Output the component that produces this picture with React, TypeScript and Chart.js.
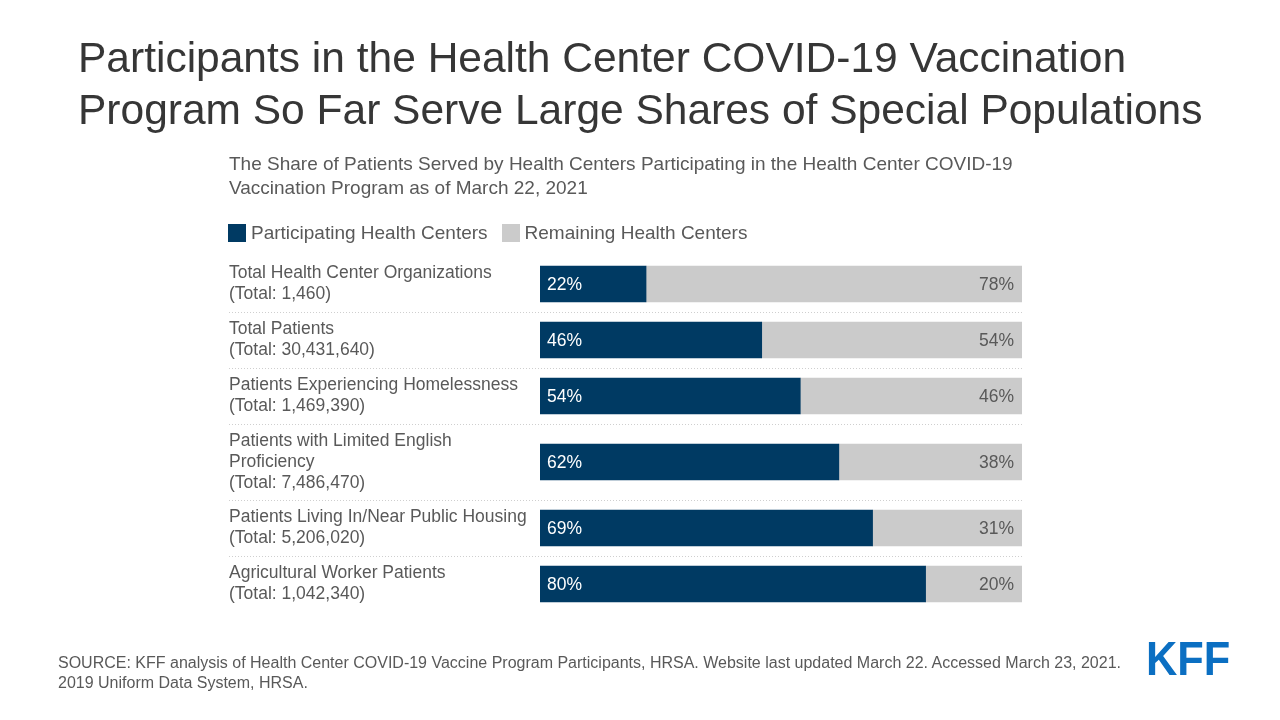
import React, { useEffect, useRef } from "react";
import { Chart, registerables } from "chart.js";

Chart.register(...registerables);

const FONT = '"Liberation Sans", Arial, Helvetica, sans-serif';

const titleLines = [
  "Participants in the Health Center COVID-19 Vaccination",
  "Program So Far Serve Large Shares of Special Populations",
];
const subtitleLines = [
  "The Share of Patients Served by Health Centers Participating in the Health Center COVID-19",
  "Vaccination Program as of March 22, 2021",
];
const seriesNames = ["Participating Health Centers", "Remaining Health Centers"];
const seriesColors = ["#003a63", "#cbcbcb"];
const categoryLines = [
  ["Total Health Center Organizations"],
  ["Total Patients"],
  ["Patients Experiencing Homelessness"],
  ["Patients with Limited English", "Proficiency"],
  ["Patients Living In/Near Public Housing"],
  ["Agricultural Worker Patients"],
];
const totals = ["1,460", "30,431,640", "1,469,390", "7,486,470", "5,206,020", "1,042,340"];
const participating = [22, 46, 54, 62, 69, 80];
const remaining = [78, 54, 46, 38, 31, 20];
const sourceLines = [
  "SOURCE: KFF analysis of Health Center COVID-19 Vaccine Program Participants, HRSA. Website last updated March 22. Accessed March 23, 2021.",
  "2019 Uniform Data System, HRSA.",
];

export default function App() {
  const canvasRef = useRef<HTMLCanvasElement | null>(null);

  useEffect(() => {
    const canvas = canvasRef.current;
    if (!canvas) return;

    const tickLabels = categoryLines.map((lines, i) => [...lines, `(Total: ${totals[i]})`]);
    // row heights in "line units": number of label lines plus a fixed gap
    const ROW_GAP = 0.8;
    const centers: number[] = [];
    const bounds: number[] = [0];
    let acc = 0;
    tickLabels.forEach((l) => {
      const h = l.length + ROW_GAP;
      centers.push(acc + h / 2);
      acc += h;
      bounds.push(acc);
    });
    const totalUnits = acc;

    const separators = {
      id: "separators",
      beforeDatasetsDraw(chart: any) {
        const ctx = chart.ctx;
        const ys = chart.scales.y;
        ctx.save();
        ctx.strokeStyle = "#cfcfcf";
        ctx.lineWidth = 1;
        ctx.setLineDash([1, 2]);
        for (let i = 1; i < bounds.length - 1; i++) {
          const y = Math.round(ys.getPixelForValue(bounds[i])) + 0.5;
          ctx.beginPath();
          ctx.moveTo(229, y);
          ctx.lineTo(chart.chartArea.right, y);
          ctx.stroke();
        }
        ctx.restore();
      },
    };

    const valueLabels = {
      id: "valueLabels",
      afterDatasetsDraw(chart: any) {
        const ctx = chart.ctx;
        ctx.save();
        ctx.font = `17.5px ${FONT}`;
        ctx.textBaseline = "middle";
        chart.data.datasets.forEach((ds: any, di: number) => {
          const meta = chart.getDatasetMeta(di);
          meta.data.forEach((bar: any, i: number) => {
            const v = ds.data[i].x;
            if (di === 0) {
              ctx.fillStyle = "#ffffff";
              ctx.textAlign = "left";
              ctx.fillText(`${v}%`, bar.base + 7, bar.y + 1);
            } else {
              ctx.fillStyle = "#595959";
              ctx.textAlign = "right";
              ctx.fillText(`${v}%`, bar.x - 8, bar.y + 1);
            }
          });
        });
        ctx.restore();
      },
    };

    const chart = new Chart(canvas, {
      type: "bar",
      data: {
        datasets: [
          {
            label: seriesNames[0],
            data: participating.map((v, i) => ({ x: v, y: centers[i] })),
            backgroundColor: seriesColors[0],
            borderWidth: 0,
            barThickness: 36,
          },
          {
            label: seriesNames[1],
            data: remaining.map((v, i) => ({ x: v, y: centers[i] })),
            backgroundColor: seriesColors[1],
            borderWidth: 0,
            barThickness: 36,
          },
        ],
      },
      options: {
        indexAxis: "y",
        responsive: false,
        animation: false,
        layout: { padding: { left: 229, top: 256, right: 258, bottom: 108 } },
        plugins: {
          legend: { display: false },
          tooltip: { enabled: false },
          title: { display: false },
        },
        scales: {
          x: { type: "linear", stacked: true, min: 0, max: 100, display: false },
          y: {
            type: "linear",
            stacked: true,
            reverse: true,
            offset: false,
            min: 0,
            max: totalUnits,
            grid: { display: false, offset: false },
            border: { display: false },
            afterBuildTicks: (s: any) => {
              s.ticks = centers.map((v) => ({ value: v }));
            },
            afterFit: (s: any) => {
              s.width = 540 - 229;
            },
            ticks: {
              autoSkip: false,
              crossAlign: "far",
              color: "#595959",
              font: { family: FONT, size: 17.5, lineHeight: 1.2 },
              callback: (_v: any, i: number) => tickLabels[i],
            },
          },
        },
      },
      plugins: [separators, valueLabels],
    } as any);

    return () => chart.destroy();
  }, []);

  const abs = (s: React.CSSProperties): React.CSSProperties => ({
    position: "absolute",
    whiteSpace: "nowrap",
    fontFamily: FONT,
    ...s,
  });

  return (
    <div style={{ position: "fixed", left: 0, top: 0, width: 1280, height: 720, background: "#fff", overflow: "hidden" }}>
      <canvas ref={canvasRef} width={1280} height={720} style={{ position: "absolute", left: 0, top: 0, width: 1280, height: 720 }} />
      <div style={abs({ left: 78, top: 32, fontSize: 42.5, lineHeight: "52px", color: "#363636" })}>
        {titleLines.map((t, i) => (
          <div key={i}>{t}</div>
        ))}
      </div>
      <div style={abs({ left: 229, top: 152, fontSize: 19, lineHeight: "24px", color: "#595959" })}>
        {subtitleLines.map((t, i) => (
          <div key={i}>{t}</div>
        ))}
      </div>
      <div style={abs({ left: 228, top: 221, fontSize: 19, lineHeight: "24px", color: "#595959", display: "flex", alignItems: "center" })}>
        {seriesNames.map((n, i) => (
          <div key={i} style={{ display: "flex", alignItems: "center", marginLeft: i === 0 ? 0 : 14 }}>
            <span style={{ display: "inline-block", width: 18, height: 18, background: seriesColors[i], marginRight: 5 }} />
            <span>{n}</span>
          </div>
        ))}
      </div>
      <div style={abs({ left: 58, top: 653, fontSize: 16, lineHeight: "20px", color: "#595959" })}>
        {sourceLines.map((t, i) => (
          <div key={i}>{t}</div>
        ))}
      </div>
      <div style={abs({ left: 1146, top: 634, fontSize: 49, lineHeight: "49px", fontWeight: 700, color: "#0b6fc2", transform: "scaleX(0.885)", transformOrigin: "left top" })}>
        KFF
      </div>
    </div>
  );
}
